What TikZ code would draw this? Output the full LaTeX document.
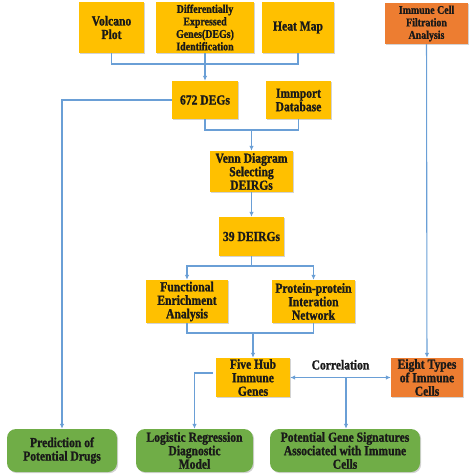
\documentclass[tikz,border=0pt]{standalone}
\usepackage{fontspec}
\setmainfont{Liberation Serif}
\newfontfamily\boxfont{Liberation Serif Bold}[FakeStretch=0.84, FakeBold=1.2]
\usetikzlibrary{arrows.meta, calc, shadows}

\definecolor{gold}{HTML}{FFC000}
\definecolor{rust}{HTML}{ED7D31}
\definecolor{leaf}{HTML}{70AD47}
\definecolor{wire}{HTML}{6A9FD6}

\begin{document}
\begin{tikzpicture}[x=1pt, y=-1pt, >={Latex[length=5pt, width=4.5pt]},
  box/.style={fill=gold, draw=none, align=center, inner sep=1pt, text=black!90,
    font=\boxfont\fontsize{13.8}{13.5}\selectfont,
    drop shadow={shadow xshift=1.2pt, shadow yshift=-1.2pt, opacity=0.35}},
  small/.style={font=\boxfont\fontsize{11.8}{12.5}\selectfont},
  cellbox/.style={box, fill=rust},
  endbox/.style={box, fill=leaf, rounded corners=9pt},
  link/.style={draw=wire, line width=1.1pt}]
  \useasboundingbox (0,0) rectangle (474,474);

  % first row
  \node[box, minimum width=65pt, minimum height=51pt] (volcano) at (111.5,27.5) {Volcano\\Plot};
  \node[box, small, minimum width=98pt, minimum height=51pt] (degid) at (205,27.5) {Differentially\\Expressed\\Genes(DEGs)\\Identification};
  \node[box, minimum width=72pt, minimum height=51pt] (heat) at (298,27.5) {Heat Map};
  \node[cellbox, small, minimum width=83pt, minimum height=41pt] (filt) at (426.5,23.5) {Immune Cell\\Filtration\\Analysis};

  \node[box, minimum width=66pt, minimum height=38pt] (deg) at (205,100) {672 DEGs};
  \node[box, minimum width=65pt, minimum height=38pt] (immport) at (298.5,100) {Immport\\Database};
  \node[box, minimum width=83pt, minimum height=41pt] (venn) at (251.5,171.5) {Venn Diagram\\Selecting\\DEIRGs};
  \node[box, minimum width=65pt, minimum height=39pt] (deirg) at (251.5,236.5) {39 DEIRGs};
  \node[box, minimum width=82pt, minimum height=43pt] (func) at (187,301.5) {Functional\\Enrichment\\Analysis};
  \node[box, minimum width=83pt, minimum height=43pt] (ppi) at (313.5,301.5) {Protein-protein\\Interation\\Network};
  \node[box, minimum width=74pt, minimum height=39pt] (hub) at (253,377.5) {Five Hub\\Immune\\Genes};
  \node[cellbox, minimum width=72pt, minimum height=39pt] (eight) at (427,377.5) {Eight Types\\of Immune\\Cells};

  % results
  \node[endbox, minimum width=110pt, minimum height=43pt] (drugs) at (62,450.5) {Prediction of\\Potential Drugs};
  \node[endbox, minimum width=117pt, minimum height=43pt] (logit) at (194.5,450.5) {Logistic Regression\\Diagnostic\\Model};
  \node[endbox, minimum width=150pt, minimum height=43pt] (sign) at (345,450.5) {Potential Gene Signatures\\Associated with Immune\\Cells};

  \coordinate (j1) at (205,64);
  \coordinate (j2) at (251.5,130);
  \coordinate (j3) at (251.5,266);
  \coordinate (j4) at (253,333);
  \coordinate (j5) at (346,377.5);
  \coordinate (hubout) at ($(hub.west)+(-3,-4.5)$);

  \draw[link] (volcano) |- (j1) -| (heat);
  \draw[link, ->] (degid) -- (deg);
  \draw[link, ->] (deg.west) -| (drugs.north);
  \draw[link] (deg) |- (j2) -| (immport);
  \draw[link, ->] (j2) -- (venn);
  \draw[link, ->] (venn) -- (deirg);
  \draw[link] (deirg) -- (j3);
  \foreach \n in {func, ppi}
    \draw[link, ->] (j3) -| (\n);
  \draw[link] (func) |- (j4) -| (ppi);
  \draw[link, ->] (j4) -- (hub);
  \draw[link, ->] (filt) -- (eight);
  \draw[link, <->] (hub) -- (eight) node[midway, above=4pt, font=\boxfont\fontsize{13.8}{13.5}\selectfont, text=black!90] {Correlation};
  \draw[link, ->] (j5) -- (j5 |- sign.north);
  \draw[link, ->] (hubout) -| (logit.north);
\end{tikzpicture}
\end{document}
